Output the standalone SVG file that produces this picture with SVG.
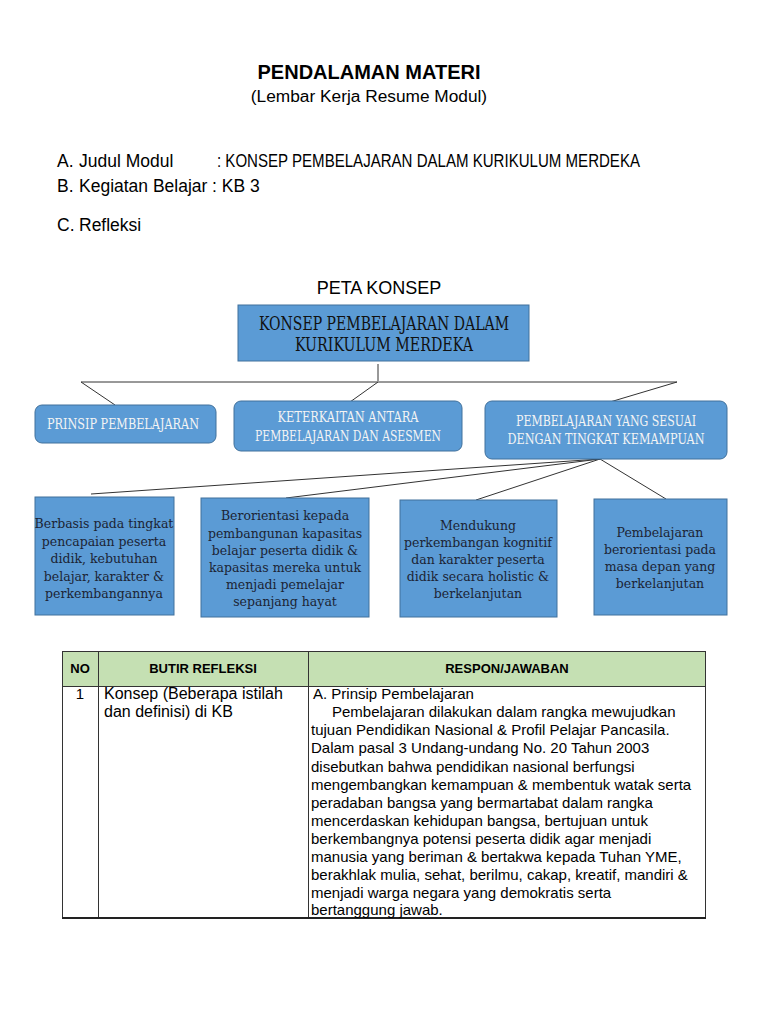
<svg xmlns="http://www.w3.org/2000/svg" width="768" height="1024" viewBox="0 0 768 1024">
<style>
.sans{font-family:"Liberation Sans",Arial,sans-serif;fill:#000}
.h{font-size:17.5px}
.box{fill:#5b9bd5;stroke:#41719c;stroke-width:1}
.ser{font-family:"DejaVu Serif","Liberation Serif",serif}
.t1{font-size:18px;fill:#111;text-anchor:middle}
.t2{font-size:14px;fill:#f4f4f4;text-anchor:middle}
.t3{font-size:12.5px;fill:#1c2434;text-anchor:middle}
.ln{stroke:#333;stroke-width:1;fill:none}
.tb{stroke:#333;stroke-width:1;fill:none}
.th{font-family:"Liberation Sans",Arial,sans-serif;font-size:13px;font-weight:bold;text-anchor:middle}
.td{font-family:"Liberation Sans",Arial,sans-serif;font-size:15px}
.tl{font-family:"Liberation Sans",Arial,sans-serif;font-size:16px}
</style>
<rect width="768" height="1024" fill="#fff"/>
<g id="header">
<text class="sans" x="369" y="79" font-size="20" font-weight="bold" text-anchor="middle">PENDALAMAN MATERI</text>
<text class="sans" x="369" y="102" font-size="17.3" text-anchor="middle">(Lembar Kerja Resume Modul)</text>
<text class="sans h" x="57" y="167">A.</text>
<text class="sans h" x="79" y="167">Judul Modul</text>
<text class="sans h" x="217" y="167" textLength="423" lengthAdjust="spacingAndGlyphs">: KONSEP PEMBELAJARAN DALAM KURIKULUM MERDEKA</text>
<text class="sans h" x="57" y="192">B.</text>
<text class="sans h" x="79" y="192">Kegiatan Belajar</text>
<text class="sans h" x="212" y="192">: KB 3</text>
<text class="sans h" x="57" y="231">C.</text>
<text class="sans h" x="79" y="231">Refleksi</text>
<text class="sans" x="379" y="294" font-size="18" text-anchor="middle">PETA KONSEP</text>
</g>
<g id="connectors">
<path class="ln" d="M378,364 L378,381 M81,382 L677,382 M81,382 L115,405 M378,382 L350,402 M677,382 L610,402"/>
<path class="ln" d="M600,459 L91,494 M600,459 L286,498 M600,459 L476,500 M600,459 L666,499"/>
</g>
<g id="n0">
<rect class="box" x="238" y="305" width="291" height="56"/>
<text class="ser t1" x="384" y="330" textLength="250" lengthAdjust="spacingAndGlyphs">KONSEP PEMBELAJARAN DALAM</text>
<text class="ser t1" x="384" y="351" textLength="178" lengthAdjust="spacingAndGlyphs">KURIKULUM MERDEKA</text>
</g>
<g id="n1">
<rect class="box" x="35" y="405" width="181" height="38" rx="7"/>
<text class="ser t2" x="123" y="429" textLength="152" lengthAdjust="spacingAndGlyphs">PRINSIP PEMBELAJARAN</text>
</g>
<g id="n2">
<rect class="box" x="234" y="401" width="228" height="50" rx="7"/>
<text class="ser t2" x="348" y="422" textLength="141" lengthAdjust="spacingAndGlyphs">KETERKAITAN ANTARA</text>
<text class="ser t2" x="348" y="441" textLength="186" lengthAdjust="spacingAndGlyphs">PEMBELAJARAN DAN ASESMEN</text>
</g>
<g id="n3">
<rect class="box" x="485" y="401" width="242" height="58" rx="7"/>
<text class="ser t2" x="606" y="426" textLength="180" lengthAdjust="spacingAndGlyphs">PEMBELAJARAN YANG SESUAI</text>
<text class="ser t2" x="606" y="444" textLength="197" lengthAdjust="spacingAndGlyphs">DENGAN TINGKAT KEMAMPUAN</text>
</g>
<g id="n4">
<rect class="box" x="35" y="497" width="139" height="118"/>
<text class="ser t3" x="104" y="528">Berbasis pada tingkat</text>
<text class="ser t3" x="104" y="546">pencapaian peserta</text>
<text class="ser t3" x="104" y="563">didik, kebutuhan</text>
<text class="ser t3" x="104" y="581">belajar, karakter &amp;</text>
<text class="ser t3" x="104" y="598">perkembangannya</text>
</g>
<g id="n5">
<rect class="box" x="201" y="498" width="168" height="119"/>
<text class="ser t3" x="285" y="520">Berorientasi kepada</text>
<text class="ser t3" x="285" y="538">pembangunan kapasitas</text>
<text class="ser t3" x="285" y="555">belajar peserta didik &amp;</text>
<text class="ser t3" x="285" y="572">kapasitas mereka untuk</text>
<text class="ser t3" x="285" y="589">menjadi pemelajar</text>
<text class="ser t3" x="285" y="606">sepanjang hayat</text>
</g>
<g id="n6">
<rect class="box" x="400" y="500" width="157" height="117"/>
<text class="ser t3" x="478" y="530">Mendukung</text>
<text class="ser t3" x="478" y="547">perkembangan kognitif</text>
<text class="ser t3" x="478" y="564">dan karakter peserta</text>
<text class="ser t3" x="478" y="581">didik secara holistic &amp;</text>
<text class="ser t3" x="478" y="598">berkelanjutan</text>
</g>
<g id="n7">
<rect class="box" x="594" y="499" width="133" height="116"/>
<text class="ser t3" x="660" y="537">Pembelajaran</text>
<text class="ser t3" x="660" y="554">berorientasi pada</text>
<text class="ser t3" x="660" y="571">masa depan yang</text>
<text class="ser t3" x="660" y="588">berkelanjutan</text>
</g>
<g id="table">
<rect x="62" y="651" width="644" height="35" fill="#c5e0b3"/>
<rect class="tb" x="62.5" y="651.5" width="643" height="267"/>
<path class="tb" d="M62,686.5 L706,686.5 M98.5,651 L98.5,918 M308.5,651 L308.5,918"/>
<path d="M62,918 L706,918" stroke="#222" stroke-width="2"/>
<text class="th" x="80" y="673">NO</text>
<text class="th" x="203" y="673">BUTIR REFLEKSI</text>
<text class="th" x="507" y="673">RESPON/JAWABAN</text>
<text class="td" x="80" y="699" text-anchor="middle">1</text>
<text class="tl" x="104" y="699">Konsep (Beberapa istilah</text>
<text class="tl" x="104" y="717">dan definisi) di KB</text>
<text class="td" x="313" y="699">A.  Prinsip Pembelajaran</text>
<text class="td" x="332" y="717">Pembelajaran dilakukan dalam rangka mewujudkan</text>
<text class="td" x="311" y="735">tujuan Pendidikan Nasional &amp; Profil Pelajar Pancasila.</text>
<text class="td" x="311" y="753">Dalam pasal 3 Undang-undang No. 20 Tahun 2003</text>
<text class="td" x="311" y="772">disebutkan bahwa pendidikan nasional berfungsi</text>
<text class="td" x="311" y="790">mengembangkan kemampuan &amp; membentuk watak serta</text>
<text class="td" x="311" y="808">peradaban bangsa yang bermartabat dalam rangka</text>
<text class="td" x="311" y="826">mencerdaskan kehidupan bangsa, bertujuan untuk</text>
<text class="td" x="311" y="844">berkembangnya potensi peserta didik agar menjadi</text>
<text class="td" x="311" y="862">manusia yang beriman &amp; bertakwa kepada Tuhan YME,</text>
<text class="td" x="311" y="880">berakhlak mulia, sehat, berilmu, cakap, kreatif, mandiri &amp;</text>
<text class="td" x="311" y="898">menjadi warga negara yang demokratis serta</text>
<text class="td" x="311" y="915">bertanggung jawab.</text>
</g>
</svg>
